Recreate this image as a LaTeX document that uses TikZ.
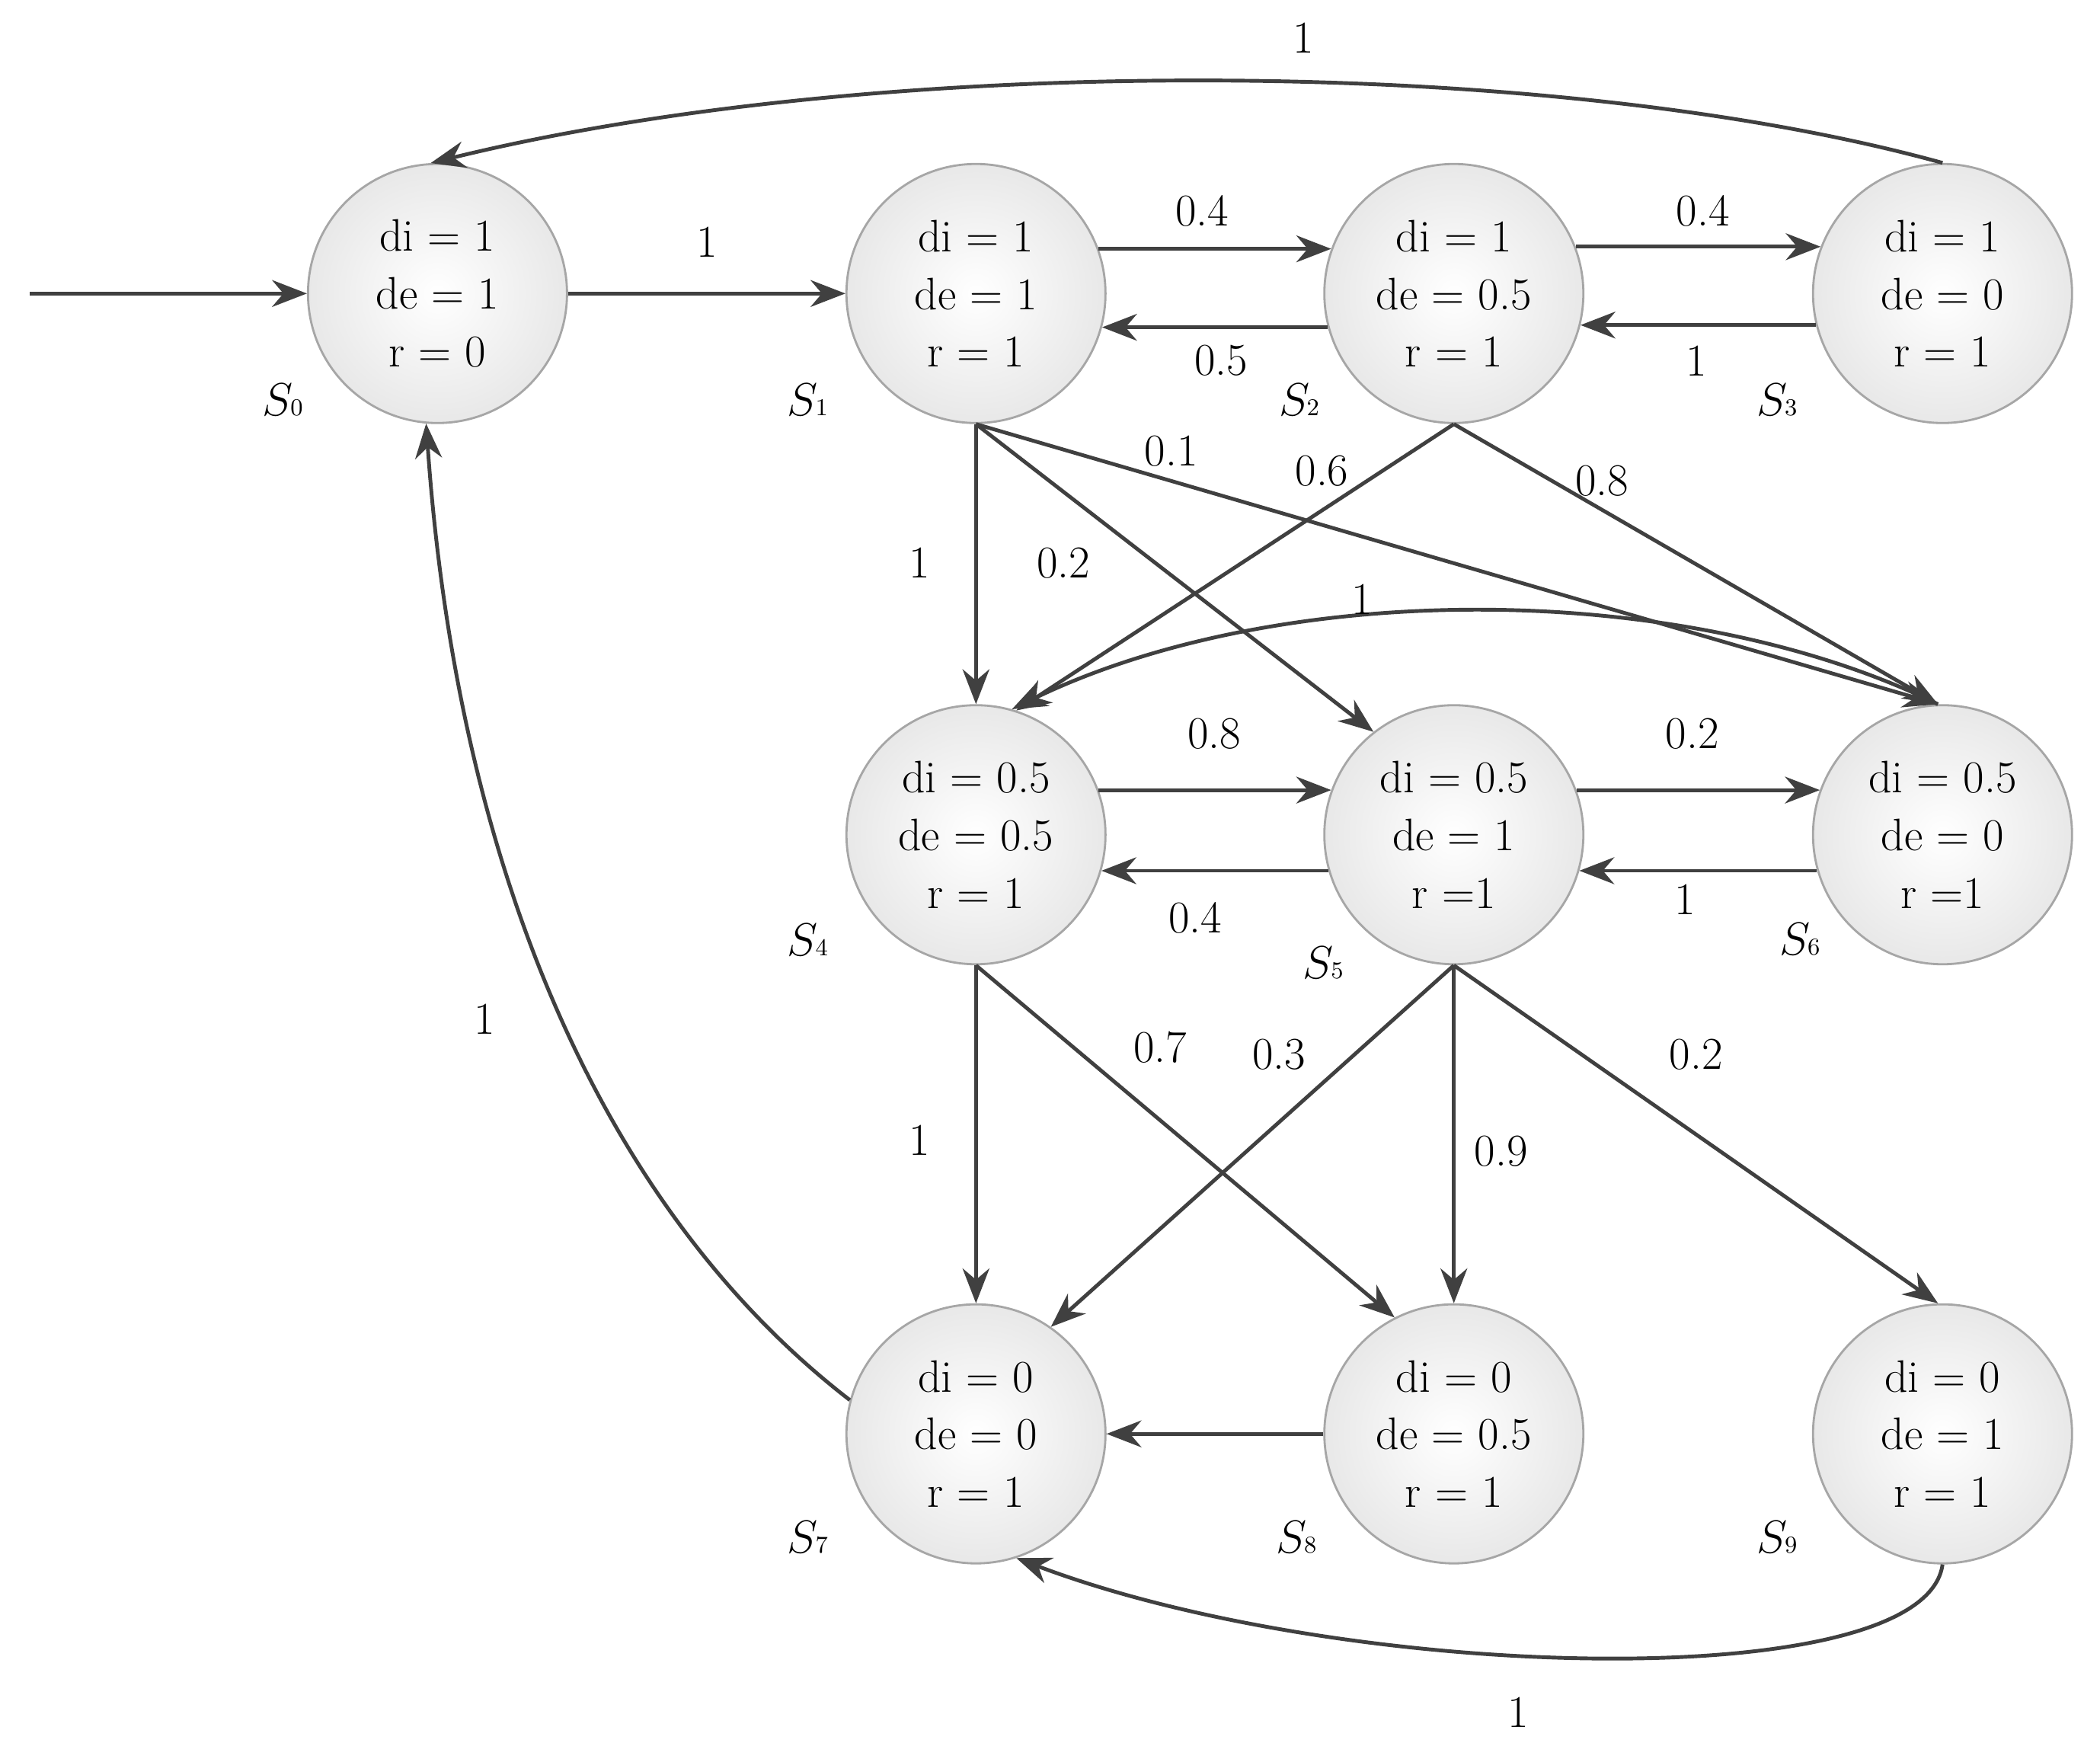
\documentclass[tikz,border=0pt]{standalone}
\usetikzlibrary{arrows.meta}
\begin{document}
\begin{tikzpicture}[x=0.01767cm,y=-0.01767cm,
  st/.style={circle,draw=gray!70,line width=0.8pt,inner color=white,outer color=gray!18,minimum size=3.4cm,align=center,font=\fontsize{17}{21.5}\selectfont},
  ed/.style={draw=black!75,line width=1.4pt,-{Stealth[length=13pt,width=10pt]}},
  lb/.style={font=\fontsize{17}{20}\selectfont},
  sl/.style={font=\fontsize{17}{20}\selectfont}]
\useasboundingbox (0,0) rectangle (1560,1306);
\node[st] (s0) at (325,218) {di = 1\\de = 1\\r = 0};
\node[st] (s1) at (725,218) {di = 1\\de = 1\\r = 1};
\node[st] (s2) at (1080,218) {di = 1\\de = 0.5\\r = 1};
\node[st] (s3) at (1443,218) {di = 1\\de = 0\\r = 1};
\node[st] (s4) at (725,620) {di = 0.5\\de = 0.5\\r = 1};
\node[st] (s5) at (1080,620) {di = 0.5\\de = 1\\r =1};
\node[st] (s6) at (1443,620) {di = 0.5\\de = 0\\r =1};
\node[st] (s7) at (725,1065) {di = 0\\de = 0\\r = 1};
\node[st] (s8) at (1080,1065) {di = 0\\de = 0.5\\r = 1};
\node[st] (s9) at (1443,1065) {di = 0\\de = 1\\r = 1};
\foreach \n/\x/\y in {0/210/297,1/600/297,2/965/297,3/1320/297,4/600/698,5/983/715,6/1337/698,7/600/1142,8/963/1142,9/1320/1142}
  \node[sl] (l\n) at (\x,\y) {$S$\kern-1pt{\small\n}};
\coordinate (in) at (22,218);
\draw[ed] (in) -- (s0.west);
\draw[ed] (s0.east) -- (s1.west);
\draw[ed] (s1.20) -- (s2.160);
\draw[ed] (s2.195) -- (s1.-15);
\draw[ed] (s2.21) -- (s3.159);
\draw[ed] (s3.194) -- (s2.-14);
\draw[ed] (s3.north) .. controls (1150,40) and (650,40) .. (s0.93);
\draw[ed] (s1.south) -- (s4.north);
\draw[ed] (s1.south) -- (s5.128);
\draw[ed] (s1.south) -- (s6.92);
\draw[ed] (s2.south) -- (s4.72);
\draw[ed] (s2.south) -- (s6.92);
\draw[ed] (s6.92) .. controls (1250,430) and (950,430) .. (s4.74);
\draw[ed] (s4.20) -- (s5.160);
\draw[ed] (s5.196) -- (s4.-16);
\draw[ed] (s5.20) -- (s6.160);
\draw[ed] (s6.196) -- (s5.-16);
\draw[ed] (s4.south) -- (s7.north);
\draw[ed] (s4.south) -- (s8.117);
\draw[ed] (s5.south) -- (s7.55);
\draw[ed] (s5.south) -- (s8.north);
\draw[ed] (s5.south) -- (s9.92);
\draw[ed] (s8.west) -- (s7.east);
\draw[ed] (s7.165) .. controls (450,900) and (340,650) .. (s0.-95);
\draw[ed] (s9.south) .. controls (1430,1260) and (1000,1250) .. (s7.-72);
\foreach \t/\x/\y in {1/525/180,0.4/893/157,0.5/907/268,0.4/1265/157,1/1260/268,1/968/28,1/683/418,0.2/790/418,0.1/870/335,0.6/982/350,0.8/1190/357,1/1012/445,0.8/902/545,0.4/888/682,0.2/1257/545,1/1252/668,1/683/847,0.7/862/778,0.3/950/783,0.9/1115/855,0.2/1260/783,1/360/757,1/1128/1272}
  \node[lb] at (\x,\y) {\t};
\end{tikzpicture}
\end{document}
